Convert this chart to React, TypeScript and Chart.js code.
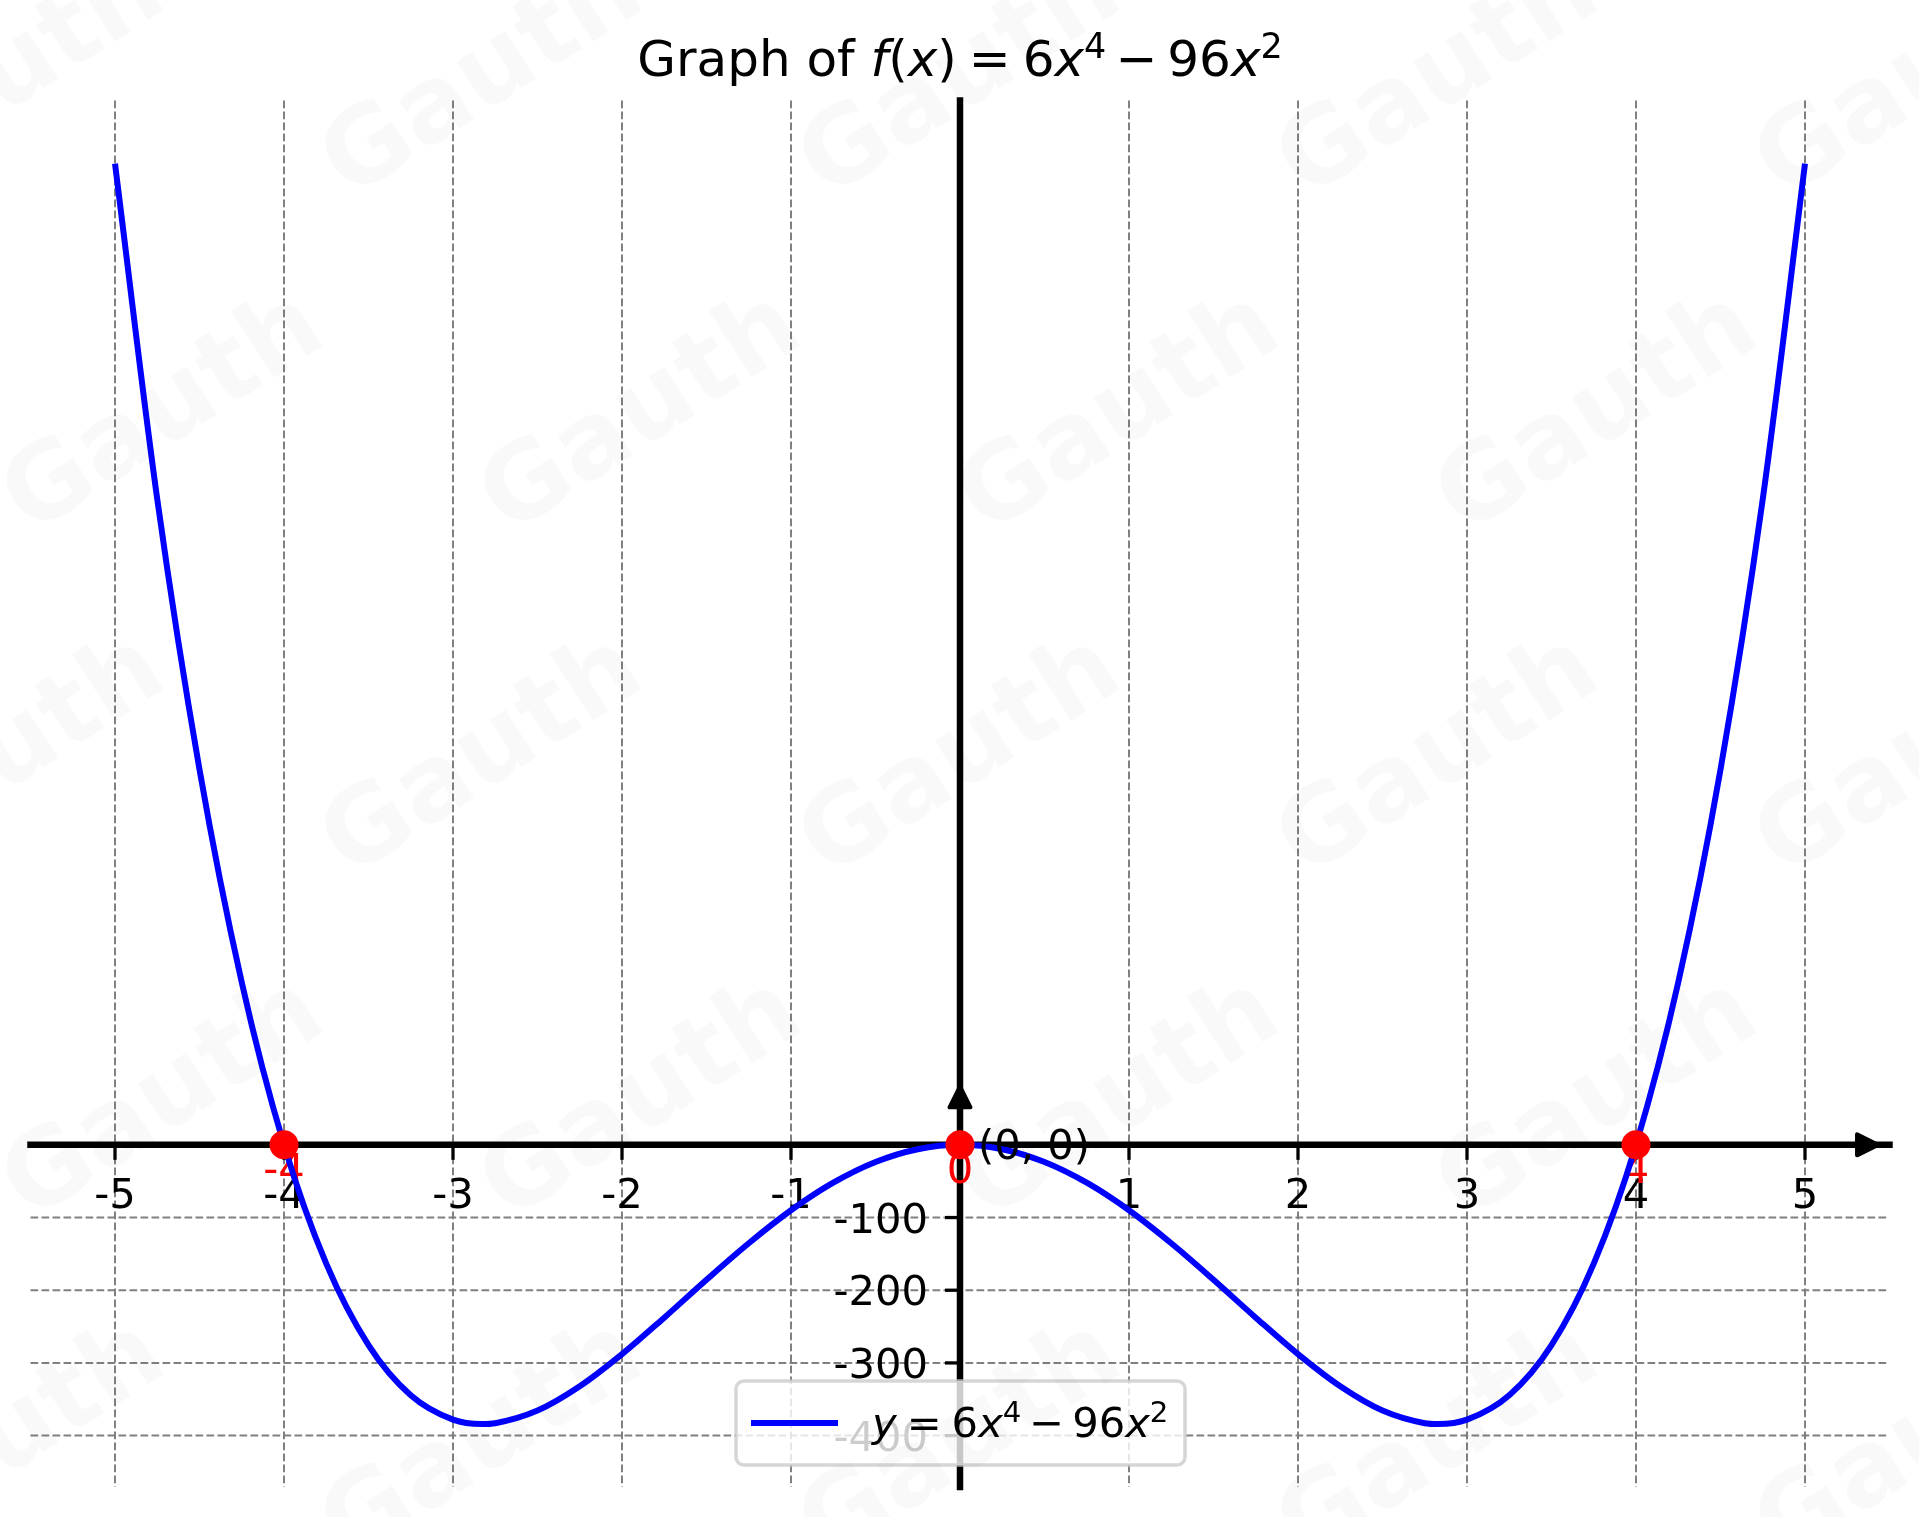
import React, { useEffect, useRef } from "react";
import { Chart, registerables } from "chart.js";

Chart.register(...registerables);

// ---- data ----
const curveX = [
  -5, -4.75, -4.5, -4.25, -4, -3.75, -3.5, -3.25, -3, -2.83, -2.75, -2.5, -2.25, -2, -1.75, -1.5, -1.25, -1, -0.75,
  -0.5, -0.25, 0, 0.25, 0.5, 0.75, 1, 1.25, 1.5, 1.75, 2, 2.25, 2.5, 2.75, 2.83, 3, 3.25, 3.5, 3.75, 4, 4.25, 4.5,
  4.75, 5,
];
const curveY = [
  1350, 888.4, 516.4, 223.5, 0, -163.5, -275.6, -344.6, -378, -384, -382.9, -365.6, -332.2, -288, -237.7, -185.6,
  -135.4, -90, -52.1, -23.6, -6.0, 0, -6.0, -23.6, -52.1, -90, -135.4, -185.6, -237.7, -288, -332.2, -365.6, -382.9,
  -384, -378, -344.6, -275.6, -163.5, 0, 223.5, 516.4, 888.4, 1350,
];
const zeroX = [-4, 0, 4];
const zeroLabels = ["-4", "0", "4"];
const xTickValues = [-5, -4, -3, -2, -1, 1, 2, 3, 4, 5];
const xTickLabels = ["-5", "-4", "-3", "-2", "-1", "1", "2", "3", "4", "5"];
const yTickValues = [-100, -200, -300, -400];
const yTickLabels = ["-100", "-200", "-300", "-400"];
const xLimits = [-5.5, 5.5];
const yLimits = [-470.7, 1436.7];
const arrowXValue = 5.37;
const arrowYValue = 66;
const originLabel = "(0, 0)";

const FONT = "'DejaVu Sans'";

type Seg = { t: string; it?: boolean; sup?: boolean; gl?: number; gr?: number };

function segFont(s: Seg, size: number) {
  return (s.it ? "italic " : "") + (s.sup ? size * 0.7 : size) + "px " + FONT;
}

function richWidth(ctx: CanvasRenderingContext2D, segs: Seg[], size: number) {
  let w = 0;
  for (const s of segs) {
    ctx.font = segFont(s, size);
    w += ctx.measureText(s.t).width + ((s.gl || 0) + (s.gr || 0)) * size;
  }
  return w;
}

function drawRich(
  ctx: CanvasRenderingContext2D,
  segs: Seg[],
  x: number,
  y: number,
  size: number,
  align: "left" | "center"
) {
  let cx = align === "center" ? x - richWidth(ctx, segs, size) / 2 : x;
  ctx.textAlign = "left";
  ctx.textBaseline = "alphabetic";
  for (const s of segs) {
    ctx.font = segFont(s, size);
    cx += (s.gl || 0) * size;
    ctx.fillText(s.t, cx, s.sup ? y - size * 0.36 : y);
    cx += ctx.measureText(s.t).width + (s.gr || 0) * size;
  }
}

const titleSegs: Seg[] = [
  { t: "Graph of " },
  { t: "f", it: true },
  { t: "(" },
  { t: "x", it: true },
  { t: ")" },
  { t: "=", gl: 0.24, gr: 0.24 },
  { t: "6" },
  { t: "x", it: true },
  { t: "4", sup: true },
  { t: "\u2212", gl: 0.19, gr: 0.19 },
  { t: "96" },
  { t: "x", it: true },
  { t: "2", sup: true },
];

const legendSegs: Seg[] = [
  { t: "y", it: true },
  { t: "=", gl: 0.24, gr: 0.24 },
  { t: "6" },
  { t: "x", it: true },
  { t: "4", sup: true },
  { t: "\u2212", gl: 0.19, gr: 0.19 },
  { t: "96" },
  { t: "x", it: true },
  { t: "2", sup: true },
];

function triangle(ctx: CanvasRenderingContext2D, cx: number, cy: number, h: number, dir: "right" | "up") {
  ctx.beginPath();
  if (dir === "right") {
    ctx.moveTo(cx + h, cy);
    ctx.lineTo(cx - h, cy - h);
    ctx.lineTo(cx - h, cy + h);
  } else {
    ctx.moveTo(cx, cy - h);
    ctx.lineTo(cx - h, cy + h);
    ctx.lineTo(cx + h, cy + h);
  }
  ctx.closePath();
  ctx.fill();
  ctx.stroke();
}

const decorPlugin = {
  id: "decor",
  beforeDatasetsDraw(chart: any) {
    const { ctx, chartArea: a, scales } = chart;
    const xs = scales.x;
    const ys = scales.y;
    const x0 = xs.getPixelForValue(0);
    const y0 = ys.getPixelForValue(0);
    ctx.save();
    // grid
    ctx.strokeStyle = "#808080";
    ctx.lineWidth = 2;
    ctx.setLineDash([7.7, 3.3]);
    for (const v of xTickValues) {
      const px = xs.getPixelForValue(v);
      ctx.beginPath();
      ctx.moveTo(px, a.top);
      ctx.lineTo(px, a.bottom);
      ctx.stroke();
    }
    for (const v of yTickValues) {
      const py = ys.getPixelForValue(v);
      ctx.beginPath();
      ctx.moveTo(a.left, py);
      ctx.lineTo(a.right, py);
      ctx.stroke();
    }
    ctx.setLineDash([]);
    // axes
    ctx.strokeStyle = "#000";
    ctx.lineWidth = 6.5;
    ctx.lineCap = "square";
    ctx.beginPath();
    ctx.moveTo(a.left, y0);
    ctx.lineTo(a.right, y0);
    ctx.stroke();
    ctx.beginPath();
    ctx.moveTo(x0, a.top);
    ctx.lineTo(x0, a.bottom);
    ctx.stroke();
    // ticks
    ctx.lineCap = "butt";
    ctx.lineWidth = 3.3;
    for (const v of xTickValues) {
      const px = xs.getPixelForValue(v);
      ctx.beginPath();
      ctx.moveTo(px, y0);
      ctx.lineTo(px, y0 + 15);
      ctx.stroke();
    }
    for (const v of yTickValues) {
      const py = ys.getPixelForValue(v);
      ctx.beginPath();
      ctx.moveTo(x0 - 15, py);
      ctx.lineTo(x0, py);
      ctx.stroke();
    }
    // tick labels
    ctx.font = "41.7px " + FONT;
    ctx.fillStyle = "#000";
    ctx.textBaseline = "alphabetic";
    ctx.textAlign = "center";
    xTickValues.forEach((v, i) => {
      ctx.fillText(xTickLabels[i], xs.getPixelForValue(v), y0 + 63);
    });
    ctx.textAlign = "right";
    yTickValues.forEach((v, i) => {
      ctx.fillText(yTickLabels[i], x0 - 32, ys.getPixelForValue(v) + 15);
    });
    // red zero labels
    ctx.fillStyle = "#ff0000";
    ctx.textAlign = "center";
    zeroX.forEach((v, i) => {
      ctx.fillText(zeroLabels[i], xs.getPixelForValue(v), y0 + 38);
    });
    ctx.restore();
  },
  afterDatasetsDraw(chart: any) {
    const { ctx, chartArea: a, scales } = chart;
    const xs = scales.x;
    const ys = scales.y;
    const x0 = xs.getPixelForValue(0);
    const y0 = ys.getPixelForValue(0);
    ctx.save();
    // origin label
    ctx.font = "41.7px " + FONT;
    ctx.fillStyle = "#000";
    ctx.textAlign = "left";
    ctx.textBaseline = "alphabetic";
    ctx.fillText(originLabel, x0 + 18, y0 + 14.5);
    // arrows
    ctx.fillStyle = "#000";
    ctx.strokeStyle = "#000";
    ctx.lineWidth = 4;
    ctx.lineJoin = "round";
    triangle(ctx, xs.getPixelForValue(arrowXValue), y0, 10.5, "right");
    triangle(ctx, x0, ys.getPixelForValue(arrowYValue), 10.5, "up");
    // legend
    ctx.beginPath();
    ctx.roundRect(736, 1381, 449, 84, 8);
    ctx.fillStyle = "rgba(255,255,255,0.8)";
    ctx.fill();
    ctx.strokeStyle = "rgba(204,204,204,0.8)";
    ctx.lineWidth = 3.5;
    ctx.stroke();
    ctx.strokeStyle = "#0000ff";
    ctx.lineWidth = 6;
    ctx.lineCap = "butt";
    ctx.beginPath();
    ctx.moveTo(751, 1423);
    ctx.lineTo(838, 1423);
    ctx.stroke();
    ctx.fillStyle = "#000";
    drawRich(ctx, legendSegs, 872, 1437, 41.7, "left");
    // title
    drawRich(ctx, titleSegs, (a.left + a.right) / 2, 76, 50, "center");
    // watermark
    ctx.fillStyle = "rgba(0,0,0,0.025)";
    ctx.font = "bold 105px " + FONT;
    ctx.textAlign = "center";
    ctx.textBaseline = "middle";
    const rows = [80, 416, 759, 1102, 1444];
    rows.forEach((ry, k) => {
      const start = k % 2 === 0 ? 6 : 165;
      for (let j = 0; j < 5; j++) {
        const rx = start + j * 478;
        ctx.save();
        ctx.translate(rx, ry);
        ctx.rotate((-33 * Math.PI) / 180);
        ctx.fillText("Gauth", 0, 0);
        ctx.restore();
      }
    });
    ctx.restore();
  },
};

export default function App() {
  const canvasRef = useRef<HTMLCanvasElement | null>(null);

  useEffect(() => {
    if (!canvasRef.current) return;
    const chart = new Chart(canvasRef.current, {
      type: "scatter",
      data: {
        datasets: [
          {
            label: "zeros",
            data: zeroX.map((v) => ({ x: v, y: 0 })),
            pointRadius: 14.5,
            pointBackgroundColor: "#ff0000",
            pointBorderWidth: 0,
            showLine: false,
          },
          {
            label: "y = 6x^4 - 96x^2",
            data: curveX.map((v, i) => ({ x: v, y: curveY[i] })),
            showLine: true,
            borderColor: "#0000ff",
            borderWidth: 6,
            pointRadius: 0,
            cubicInterpolationMode: "monotone",
            fill: false,
          } as any,
        ],
      },
      options: {
        responsive: false,
        animation: false,
        devicePixelRatio: 1,
        layout: { padding: { left: 30.5, right: 29.5, top: 100.5, bottom: 30 } },
        plugins: {
          legend: { display: false },
          tooltip: { enabled: false },
          title: { display: false },
        },
        scales: {
          x: { type: "linear", min: xLimits[0], max: xLimits[1], display: false },
          y: { type: "linear", min: yLimits[0], max: yLimits[1], display: false },
        },
      },
      plugins: [decorPlugin],
    });
    return () => chart.destroy();
  }, []);

  return (
    <div style={{ position: "absolute", left: 0, top: 0, width: 1919, height: 1517, background: "#fff" }}>
      <canvas ref={canvasRef} width={1919} height={1517} style={{ display: "block" }} />
    </div>
  );
}
